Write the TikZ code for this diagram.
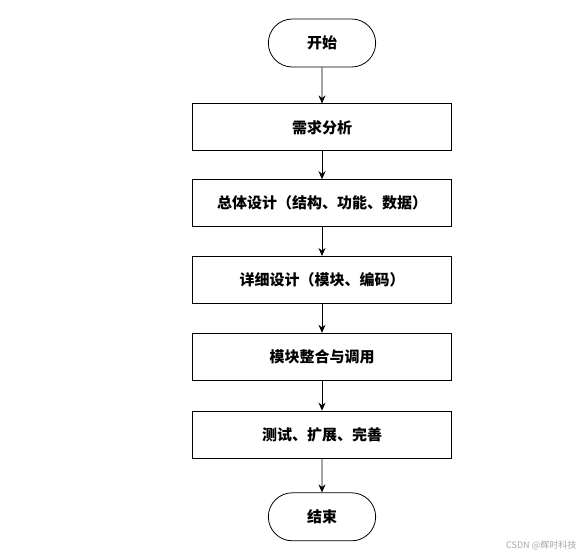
\documentclass[tikz,border=0pt]{standalone}
\usepackage{fontspec}
\setmainfont{Noto Sans CJK SC}
\usepackage{tikz}
\usetikzlibrary{positioning}
\usetikzlibrary{arrows.meta}
\usetikzlibrary{shapes.misc}

\tikzset{
    terminal/.style={draw, rounded rectangle, minimum width=114pt, minimum height=48pt, font=\fontsize{15}{17}\selectfont\bfseries},
    process/.style={draw, rectangle, minimum width=259pt, minimum height=47pt, font=\fontsize{15}{17}\selectfont\bfseries},
    flow/.style={-{Stealth[length=8pt, width=7pt]}}
}

\begin{document}
\begin{tikzpicture}[x=1pt, y=1pt, line width=0.8pt]
        % The canvas
        \useasboundingbox (0, 0) rectangle (586, -555);

        % The steps
        \node[terminal] (start) at (322, -43) {开始};
        \node[process, below=36pt of start] (analysis) {需求分析};
        \node[process, below=28pt of analysis] (overall) {总体设计（结构、功能、数据）};
        \node[process, below=29pt of overall] (detail) {详细设计（模块、编码）};
        \node[process, below=29pt of detail] (integrate) {模块整合与调用};
        \node[process, below=30pt of integrate] (test) {测试、扩展、完善};
        \node[terminal, below=34pt of test] (finish) {结束};

        % The arrows
        \draw[flow] (start) -- (analysis);
        \draw[flow] (analysis) -- (overall);
        \draw[flow] (overall) -- (detail);
        \draw[flow] (detail) -- (integrate);
        \draw[flow] (integrate) -- (test);
        \draw[flow] (test) -- (finish);

        % The watermark
        \node[anchor=east, text=gray!70, font=\fontsize{9}{10}\selectfont] (mark) at (580, -545) {CSDN @辉时科技};
    \end{tikzpicture}
\end{document}
